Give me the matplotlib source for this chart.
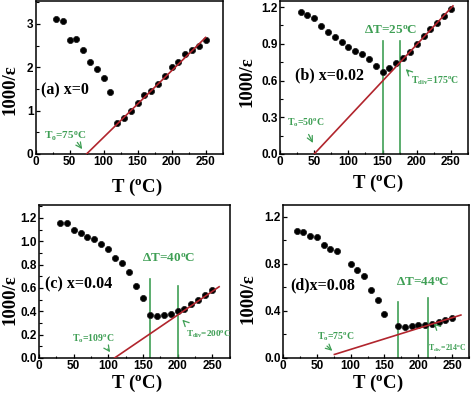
import matplotlib
matplotlib.use("Agg")
import matplotlib.pyplot as plt
from matplotlib.ticker import MultipleLocator, FormatStrFormatter

plt.rcParams['mathtext.fontset'] = 'custom'
plt.rcParams['mathtext.rm'] = 'Liberation Serif:bold'
plt.rcParams['mathtext.it'] = 'Liberation Serif:bold:italic'
plt.rcParams['mathtext.bf'] = 'Liberation Serif:bold'

# ---- data ----
T_a = [30, 40, 50, 60, 70, 80, 90, 100, 110, 120, 130, 140, 150, 160, 170, 180,
       190, 200, 210, 220, 230, 240, 250]
inv_a = [3.11, 3.08, 2.62, 2.65, 2.40, 2.12, 1.96, 1.76, 1.42, 0.71, 0.84, 1.00,
         1.18, 1.36, 1.46, 1.62, 1.79, 2.00, 2.12, 2.31, 2.41, 2.49, 2.63]
fit_a_T = [75, 250]
fit_a_y = [0.0, 2.69]

T_b = [30, 40, 50, 60, 70, 80, 90, 100, 110, 120, 130, 140, 150, 160, 170, 180,
       190, 200, 210, 220, 230, 240, 250]
inv_b = [1.164, 1.137, 1.11, 1.047, 1.00, 0.952, 0.919, 0.878, 0.845, 0.818, 0.775,
         0.715, 0.671, 0.70, 0.747, 0.783, 0.837, 0.897, 0.96, 1.02, 1.074, 1.129, 1.184]
fit_b_T = [50, 253]
fit_b_y = [0.0, 1.21]

T_c = [30, 40, 50, 60, 70, 80, 90, 100, 110, 120, 130, 140, 150, 160, 170, 180,
       190, 200, 210, 220, 230, 240, 250]
inv_c = [1.16, 1.16, 1.10, 1.07, 1.04, 1.02, 0.98, 0.93, 0.86, 0.81, 0.74, 0.62,
         0.51, 0.37, 0.36, 0.37, 0.38, 0.40, 0.42, 0.46, 0.50, 0.54, 0.58]
fit_c_T = [109, 260]
fit_c_y = [0.0, 0.61]

T_d = [20, 30, 40, 50, 60, 70, 80, 100, 110, 120, 130, 140, 150, 170, 180, 190,
       200, 210, 220, 230, 240, 250]
inv_d = [1.08, 1.07, 1.04, 1.03, 0.96, 0.93, 0.91, 0.80, 0.75, 0.70, 0.58, 0.49,
         0.37, 0.27, 0.26, 0.27, 0.28, 0.28, 0.29, 0.31, 0.32, 0.34]
fit_d_T = [76, 263]
fit_d_y = [0.03, 0.365]

panel_labels = ['(a) x=0', '(b) x=0.02', '(c) x=0.04', '(d)x=0.08']
t0_labels = [r'T$_\mathrm{o}$=75$^\mathrm{o}$C', r'T$_\mathrm{o}$=50$^\mathrm{o}$C',
             r'T$_\mathrm{o}$=109$^\mathrm{o}$C', r'T$_\mathrm{o}$=75$^\mathrm{o}$C']
dT_labels = [None, r'$\Delta$T=25$^\mathrm{o}$C', r'$\Delta$T=40$^\mathrm{o}$C',
             r'$\Delta$T=44$^\mathrm{o}$C']
tdiv_labels = [None, r'T$_\mathrm{div}$=175$^\mathrm{o}$C',
               r'T$_\mathrm{div}$=200$^\mathrm{o}$C', r'T$_\mathrm{div}$=214$^\mathrm{o}$C']
vlines = [None, [150, 175], [160, 200], [170, 214]]

RED = '#b1252d'
GREEN = '#3f9f55'
W, H = 474, 395

fig = plt.figure(figsize=(4.74, 3.95), dpi=100)

# axes boxes in pixels: left, top, right, bottom
boxes = [(35.5, 1, 222.7, 154), (280, 1, 468, 154),
         (39, 205, 229.5, 358), (283, 205, 469, 358)]
axes = []
for l, t, r, b in boxes:
    axes.append(fig.add_axes([l / W, (H - b) / H, (r - l) / W, (b - t) / H]))

series = [(T_a, inv_a, fit_a_T, fit_a_y), (T_b, inv_b, fit_b_T, fit_b_y),
          (T_c, inv_c, fit_c_T, fit_c_y), (T_d, inv_d, fit_d_T, fit_d_y)]
ylims = [3.53, 1.25, 1.31, 1.30]
ymaj = [1, 0.3, 0.2, 0.4]
yfmt = ['%d', '%.1f', '%.1f', '%.1f']
ylab_pos = [(-0.136, 0.42), (-0.176, 0.47), (-0.152, 0.38), (-0.19, 0.385)]
xlab_pos = [(0.54, -0.216), (0.52, -0.19), (0.515, -0.163), (0.51, -0.163)]

# panel-specific text placement (data coords)
panel_xy = [(8, 1.46), (22, 0.64), (8, 0.63), (10, 0.615)]
t0_xy = [(13, 0.40), (10, 0.256), (48, 0.163), (51, 0.18)]
t0_size = [8, 7, 7, 7]
t0_arrow = [((59, 0.32), (71, 0.06)), ((40, 0.18), (50, 0.07)),
            ((97, 0.097), (105, 0.03)), ((62, 0.117), (76, 0.045))]
vtop = [None, [0.92, 0.92], [0.677, 0.614], [0.48, 0.51]]
dT_xy = [None, (162, 1.01), (188, 0.85), (206, 0.636)]
tdiv_xy = [None, (191, 0.60), (212, 0.203), (214, 0.083)]
tdiv_size = [None, 7, 6.6, 5.6]
tdiv_arrow = [None, ((191, 0.655), (181, 0.71)), ((212, 0.297), (204, 0.345)),
              ((229, 0.258), (220, 0.31))]

serif = 'Liberation Serif'
for i, ax in enumerate(axes):
    T, y, fT, fy = series[i]
    ax.plot(T, y, 'o', color='black', markersize=4.4, markeredgecolor='#222222',
            markeredgewidth=0.6, zorder=3)
    ax.plot(fT, fy, '-', color=RED, lw=1.2, zorder=4)
    ax.set_xlim(0, 275)
    ax.set_ylim(0, ylims[i])
    ax.xaxis.set_major_locator(MultipleLocator(50))
    ax.xaxis.set_minor_locator(MultipleLocator(25))
    ax.yaxis.set_major_locator(MultipleLocator(ymaj[i]))
    ax.yaxis.set_minor_locator(MultipleLocator(ymaj[i] / 2))
    ax.yaxis.set_major_formatter(FormatStrFormatter(yfmt[i]))
    ax.tick_params(which='both', direction='in', top=False, right=False)
    ax.tick_params(which='major', length=3, width=0.9, pad=1.5)
    ax.tick_params(which='minor', length=1.8, width=0.8)
    for lbl in ax.get_xticklabels() + ax.get_yticklabels():
        lbl.set_fontfamily('Liberation Sans')
        lbl.set_fontweight('bold')
        lbl.set_fontsize(8.5)
    for s in ax.spines.values():
        s.set_linewidth(1.1)
    ax.set_xlabel(r'T ($^\mathrm{o}$C)', fontsize=13.5, fontfamily=serif,
                  fontweight='bold', va='center')
    ax.xaxis.set_label_coords(*xlab_pos[i])
    ax.set_ylabel('1000/ε', fontsize=13.5, fontfamily=serif, fontweight='bold',
                  va='center')
    ax.yaxis.set_label_coords(*ylab_pos[i])

    ax.text(*panel_xy[i], panel_labels[i], fontsize=11.5, fontfamily=serif,
            fontweight='bold', va='center', ha='left')
    ax.text(*t0_xy[i], t0_labels[i], fontsize=t0_size[i], fontfamily=serif,
            fontweight='bold', color=GREEN, va='center', ha='left')
    ax.annotate('', xy=t0_arrow[i][1], xytext=t0_arrow[i][0],
                arrowprops=dict(arrowstyle='->', color=GREEN, lw=0.9))

    if vlines[i] is not None:
        for xv, top in zip(vlines[i], vtop[i]):
            ax.plot([xv, xv], [0, top], color=GREEN, lw=1.2, zorder=2)
        ax.text(*dT_xy[i], dT_labels[i], fontsize=9.5, fontfamily=serif,
                fontweight='bold', color=GREEN, va='center', ha='center')
        ax.text(*tdiv_xy[i], tdiv_labels[i], fontsize=tdiv_size[i], fontfamily=serif,
                fontweight='bold', color=GREEN, va='center', ha='left')
        ax.annotate('', xy=tdiv_arrow[i][1], xytext=tdiv_arrow[i][0],
                    arrowprops=dict(arrowstyle='->', color=GREEN, lw=0.9))

fig.savefig('out.png', dpi=100)
